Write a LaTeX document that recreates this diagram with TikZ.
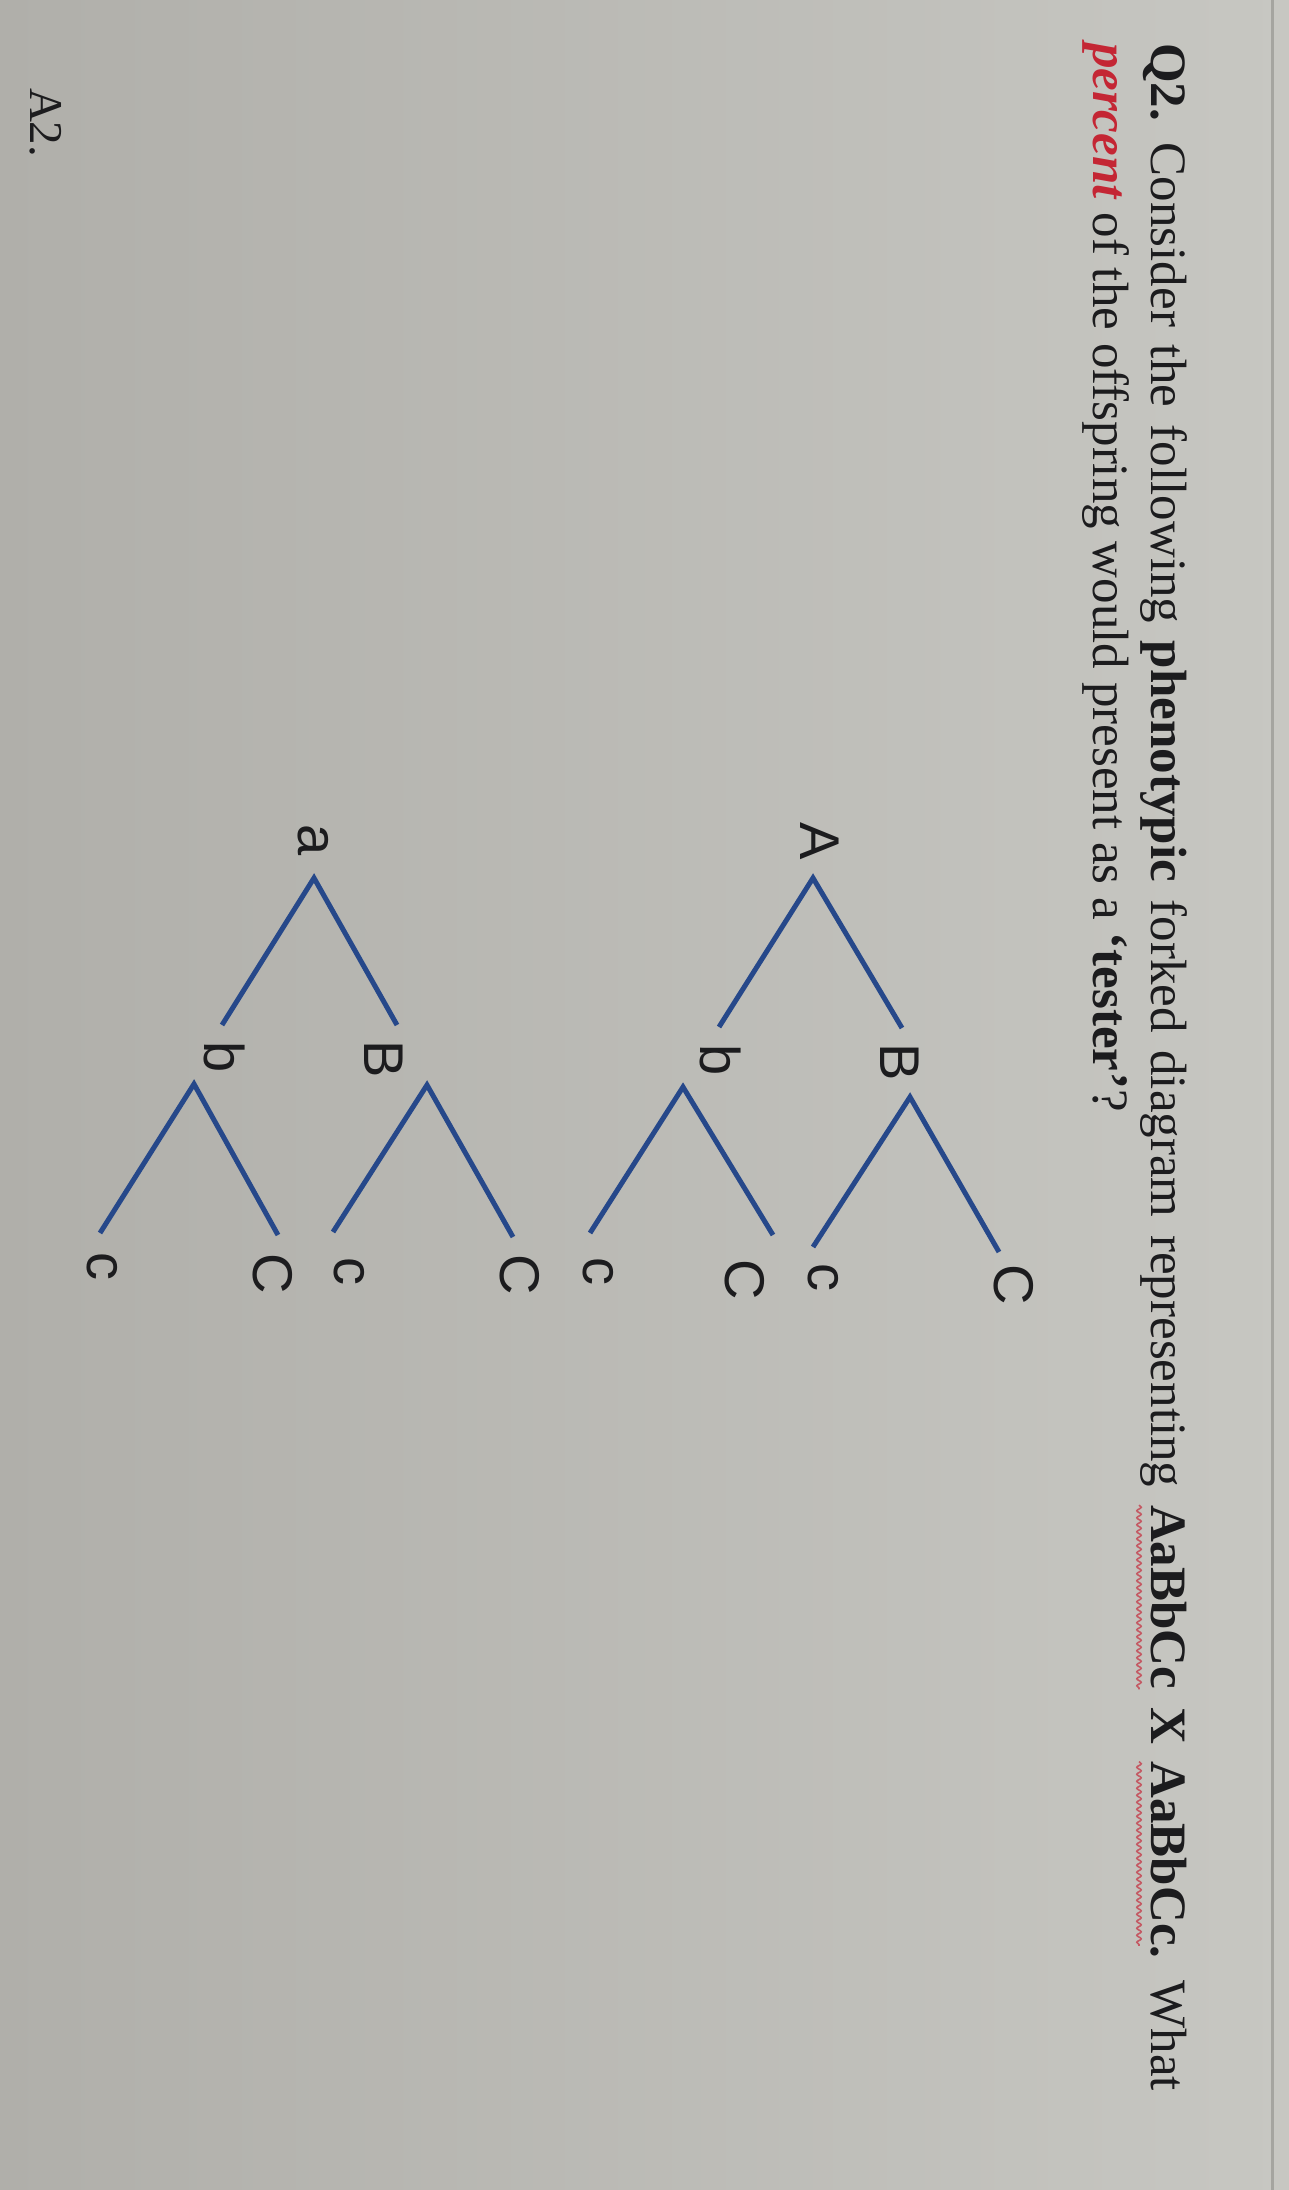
\documentclass[tikz,border=0pt]{standalone}
\usepackage{fontspec}
\setmainfont{Liberation Serif}
\newfontfamily\arialf{Liberation Sans}
\usetikzlibrary{decorations.pathmorphing}
\definecolor{paperL}{RGB}{176,175,170}
\definecolor{paperM}{RGB}{205,205,200}
\definecolor{paperR}{RGB}{199,199,194}
\definecolor{edgec}{RGB}{165,165,160}
\definecolor{inkc}{RGB}{28,28,30}
\definecolor{redc}{RGB}{196,38,52}
\definecolor{branchc}{RGB}{38,72,138}
\definecolor{squigc}{RGB}{196,90,100}
\begin{document}
\begin{tikzpicture}[x=1pt,y=-1pt,
  txt/.style={rotate=-90, inner sep=0pt, outer sep=0pt, text=inkc, font=\fontsize{51}{56}\selectfont},
  wide/.style={execute at begin node={\spaceskip=17.75pt\relax}},
  lab/.style={rotate=-90, inner sep=0pt, outer sep=0pt, text=inkc, font=\arialf\fontsize{56}{60}\selectfont},
  br/.style={draw=branchc, line width=5pt, line join=miter, line cap=butt},
  squig/.style={draw=squigc, line width=1.6pt, decorate, decoration={snake, amplitude=2.2pt, segment length=7pt}}]
\useasboundingbox (0,0) rectangle (1289,2190);
\shade[left color=paperL, middle color=paperM, right color=paperR] (0,0) rectangle (1289,2190);
\draw[edgec, line width=3pt] (1272,0) -- (1272,2190);

% question text, line 1
\node[txt, wide, anchor=base west] (l1a) at (1151,43) {\textbf{Q2.} Consider the following \textbf{phenotypic} forked diagram representing};
\node[txt, anchor=base west] (l1b) at ([yshift=-17.75pt]l1a.base east) {\textbf{AaBbCc}};
\node[txt, anchor=base west] (l1c) at ([yshift=-17.75pt]l1b.base east) {\textbf{X}};
\node[txt, anchor=base west] (l1d) at ([yshift=-17.75pt]l1c.base east) {\textbf{AaBbCc}};
\node[txt, wide, anchor=base west] (l1e) at (l1d.base east) {\textbf{.} What};
\draw[squig] ([xshift=-12pt]l1b.base west) -- ([xshift=-12pt]l1b.base east);
\draw[squig] ([xshift=-12pt]l1d.base west) -- ([xshift=-12pt]l1d.base east);

% line 2
\node[txt, anchor=base west] (l2) at (1093,43) {\textcolor{redc}{\textbf{\textit{percent}}} of the offspring would present as a \textbf{‘tester’}?};

% answer label
\node[txt, anchor=base west, font=\fontsize{47}{52}\selectfont] (a2) at (30,88) {A2.};

% tree 1
\node[lab] (tA) at (820,841) {A};
\node[lab] (tB) at (900,1062) {B};
\node[lab] (tb) at (721,1060) {b};
\node[lab] (tBC) at (1014,1285) {C};
\node[lab] (tBc) at (823,1277) {c};
\node[lab] (tbC) at (745,1280) {C};
\node[lab] (tbc) at (598,1271) {c};
\coordinate (tA-ap) at (813,878);
\coordinate (tA-l) at (719,1027);
\coordinate (tA-r) at (902,1028);
\coordinate (tb-ap) at (683,1087);
\coordinate (tb-l) at (590,1233);
\coordinate (tb-r) at (773,1235);
\coordinate (tB-ap) at (910,1097);
\coordinate (tB-l) at (813,1247);
\coordinate (tB-r) at (999,1252);
\draw[br] (tA-l) -- (tA-ap) -- (tA-r);
\draw[br] (tb-l) -- (tb-ap) -- (tb-r);
\draw[br] (tB-l) -- (tB-ap) -- (tB-r);

% tree 2
\node[lab] (sa) at (313,840) {a};
\node[lab] (sB) at (384,1059) {B};
\node[lab] (sb) at (225,1057) {b};
\node[lab] (sBC) at (520,1275) {C};
\node[lab] (sBc) at (349,1271) {c};
\node[lab] (sbC) at (273,1274) {C};
\node[lab] (sbc) at (102,1266) {c};
\coordinate (sa-ap) at (314,878);
\coordinate (sa-l) at (222,1025);
\coordinate (sa-r) at (397,1025);
\coordinate (sb-ap) at (194,1084);
\coordinate (sb-l) at (100,1233);
\coordinate (sb-r) at (278,1235);
\coordinate (sB-ap) at (427,1085);
\coordinate (sB-l) at (333,1232);
\coordinate (sB-r) at (513,1237);
\draw[br] (sa-l) -- (sa-ap) -- (sa-r);
\draw[br] (sb-l) -- (sb-ap) -- (sb-r);
\draw[br] (sB-l) -- (sB-ap) -- (sB-r);
\end{tikzpicture}
\end{document}
